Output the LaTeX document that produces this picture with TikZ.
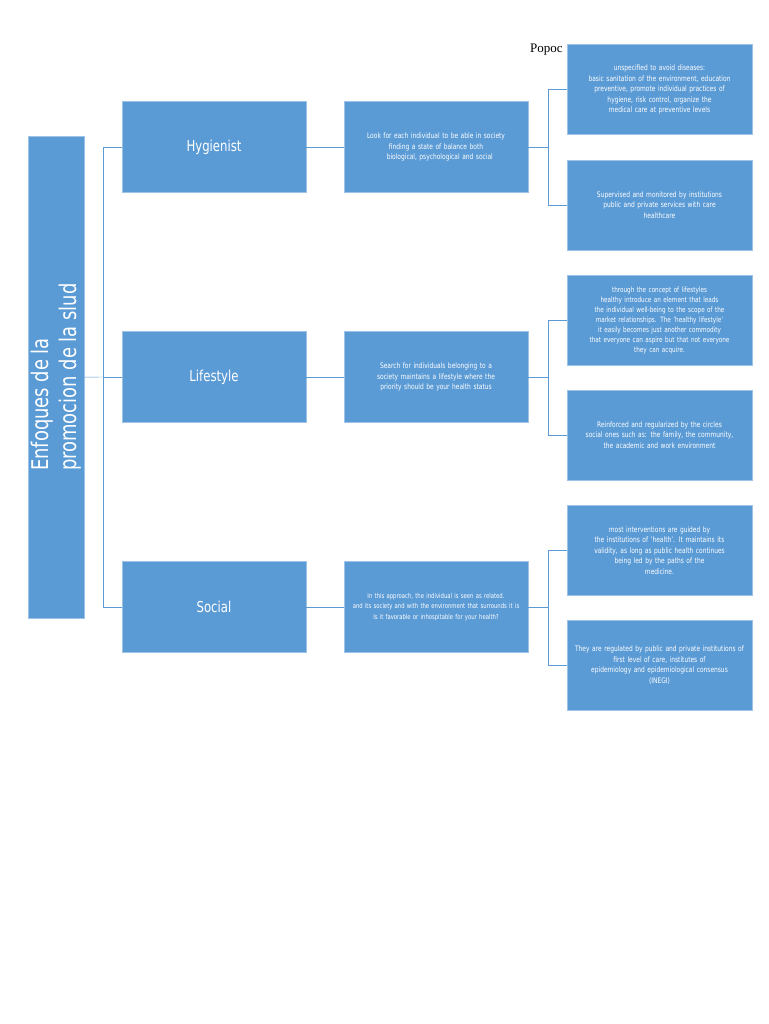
\documentclass[tikz,border=0pt]{standalone}
\usepackage{fontspec}
\setmainfont{DejaVu Sans}[FakeStretch=0.78]
\newfontfamily\popocfont{Liberation Serif}
\definecolor{boxblue}{HTML}{5B9BD5}
\begin{document}
\begin{tikzpicture}[x=1pt,y=-1pt,
    blk/.style={fill=boxblue, draw=boxblue!60!white, inner sep=0pt, text=white, align=center},
    big/.style={blk, minimum width=184pt, minimum height=91pt, font=\fontsize{15}{18}\selectfont},
    mid/.style={blk, minimum width=184pt, minimum height=91pt, text width=180pt, font=\fontsize{7.6}{10.5}\selectfont},
    leaf/.style={blk, minimum width=185pt, minimum height=90pt, text width=182pt, font=\fontsize{7.6}{10.5}\selectfont},
    link/.style={draw=boxblue, thin}]

    % page
    \useasboundingbox (0,0) rectangle (768,1024);

    % Title
    \node[blk, minimum width=56pt, minimum height=482pt, anchor=north west] (title) at (28,136) {};
    \node[rotate=90, text=white, align=left, font=\fontsize{23}{28}\selectfont] at (title.center) {Enfoques de la\\promocion de la slud};

    % Approaches
    \node[big] (hyg) at (214,147) {Hygienist};
    \node[big] (life) at (214,377) {Lifestyle};
    \node[big] (soc) at (214,607) {Social};

    % Descriptions
    \node[mid] (hygd) at (436,147) {Look for each individual to be able in society\\finding a state of balance both\\\quad biological, psychological and social};
    \node[mid] (lifed) at (436,377) {Search for individuals belonging to a\\society maintains a lifestyle where the\\priority should be your health status};
    \node[mid, font=\fontsize{6.8}{10.5}\selectfont] (socd) at (436,607) {In this approach, the individual is seen as related.\\and its society and with the environment that surrounds it is\\Is it favorable or inhospitable for your health?};

    % Details
    \node[leaf] (hyga) at (659.5,89.5) {unspecified to avoid diseases:\\basic sanitation of the environment, education\\preventive, promote individual practices of\\hygiene, risk control, organize the\\medical care at preventive levels};
    \node[leaf] (hygb) at (659.5,205) {Supervised and monitored by institutions\\public and private services with care\\healthcare};
    \node[leaf, font=\fontsize{7.3}{10}\selectfont] (lifea) at (659.5,320.5) {through the concept of lifestyles\\healthy introduce an element that leads\\the individual well-being to the scope of the\\market relationships. The 'healthy lifestyle'\\it easily becomes just another commodity\\that everyone can aspire but that not everyone\\they can acquire.};
    \node[leaf] (lifeb) at (659.5,435) {Reinforced and regularized by the circles\\social ones such as: the family, the community,\\the academic and work environment};
    \node[leaf] (soca) at (659.5,550.5) {most interventions are guided by\\the institutions of 'health'. It maintains its\\validity, as long as public health continues\\being led by the paths of the\\medicine.};
    \node[leaf] (socb) at (659.5,665) {They are regulated by public and private institutions of\\first level of care, institutes of\\epidemiology and epidemiological consensus\\(INEGI)};

    % Header text
    \node[anchor=west, inner sep=0pt, font=\popocfont\fontsize{13}{15}\selectfont] (popoc) at (530,50) {Popoc};

    % Connectors
    \coordinate (tj) at (103,377);
    \draw[link] (title.east) -- (tj);
    \foreach \n in {hyg, life, soc} {
        \draw[link] (tj) |- (\n.west);
        \draw[link] (\n.east) -- (\n d.west);
    }
    \foreach \n in {hyg, life, soc} {
        \coordinate (\n j) at ([xshift=20pt]\n d.east);
        \draw[link] (\n d.east) -- (\n j);
        \draw[link] (\n j) |- (\n a.west);
        \draw[link] (\n j) |- (\n b.west);
    }

\end{tikzpicture}
\end{document}
